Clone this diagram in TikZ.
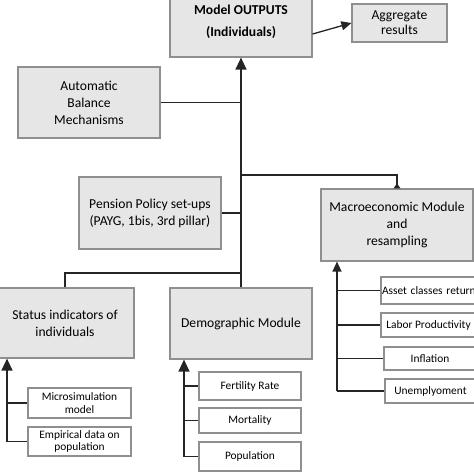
\documentclass[tikz,border=0pt]{standalone}
\usepackage{fontspec}
\setmainfont{Carlito}
\usetikzlibrary{arrows.meta}
\definecolor{boxgray}{HTML}{8F8F8F}
\definecolor{fillgray}{HTML}{E6E6E6}
\definecolor{linec}{HTML}{252525}
\tikzset{
  mainbox/.style={draw=boxgray, fill=fillgray, line width=1.2pt, inner sep=0pt, align=center,
    font=\fontsize{13.6}{17}\selectfont},
  subbox/.style={draw=boxgray, fill=white, line width=1.2pt, inner sep=0pt, align=center,
    font=\fontsize{11.4}{12.5}\selectfont},
  conn/.style={draw=linec, line width=1.3pt},
  bigarrow/.style={-{Triangle[length=12pt,width=11pt]}},
  midarrow/.style={-{Triangle[length=10pt,width=9pt]}},
}
\begin{document}
\begin{tikzpicture}[x=1pt,y=-1pt]
\useasboundingbox (0,0) rectangle (474,474);
% main boxes
\node[mainbox, minimum width=142pt, minimum height=70pt] (out) at (241,22) {\textbf{Model OUTPUTS}\\[5pt]\textbf{(Individuals)}};
\node[mainbox, minimum width=95pt, minimum height=38pt, font=\fontsize{13.6}{15}\selectfont] (agg) at (399.5,23) {Aggregate\\results};
\node[mainbox, minimum width=142pt, minimum height=71pt] (auto) at (89,102.5) {Automatic\\Balance\\Mechanisms};
\node[mainbox, minimum width=142pt, minimum height=72pt] (pen) at (150,213) {Pension Policy set-ups\\(PAYG, 1bis, 3rd pillar)};
\node[mainbox, minimum width=152pt, minimum height=72pt] (macro) at (397,225) {Macroeconomic Module\\and\\resampling};
\node[mainbox, minimum width=138pt, minimum height=70pt] (stat) at (65,323) {Status indicators of\\individuals};
\node[mainbox, minimum width=142pt, minimum height=71pt] (demo) at (241,323.5) {Demographic Module};
% sub boxes
\node[subbox, minimum width=103pt, minimum height=30pt] (micro) at (79.5,403) {Microsimulation\\model};
\node[subbox, minimum width=103pt, minimum height=29pt] (emp) at (79.5,441.5) {Empirical data on\\population};
\node[subbox, minimum width=102pt, minimum height=28pt] (fert) at (250,386) {Fertility Rate};
\node[subbox, minimum width=102pt, minimum height=25pt] (mort) at (250,420.5) {Mortality};
\node[subbox, minimum width=102pt, minimum height=29pt] (pop) at (250,456.5) {Population};
\node[subbox, text width=110pt, inner xsep=1pt, align=left, minimum height=27pt] (asset) at (437,290.5) {Asset classes return};
\node[subbox, minimum width=95pt, minimum height=24pt] (labor) at (428.5,325) {Labor Productivity};
\node[subbox, minimum width=92pt, minimum height=23pt] (infl) at (430,358.5) {Inflation};
\node[subbox, minimum width=91pt, minimum height=24pt] (unemp) at (430.5,391) {Unemplyoment};
% junctions
\coordinate (jlow) at (241,273);
\coordinate (jmac) at (241,175);
\coordinate (sb) at (7,441.5);
\coordinate (db) at (184,456.5);
\coordinate (mb) at (337,391);
% main trunk
\draw[conn, bigarrow] (jlow) -- (out.south);
\draw[conn] (auto.east) -- (auto.east -| jlow);
\draw[conn] (pen.east) -- (pen.east -| jlow);
\draw[conn] (jmac) -| (macro.north);
\fill[linec] (macro.north) ++(-3.5,0) -- ++(7,0) -- ++(-3.5,-5) -- cycle;
\draw[conn] (jlow) -| (stat.north);
\draw[conn] (jlow) -- (demo.north);
\draw[conn, midarrow] ([yshift=-12pt]out.east) -- (agg.west);
% status
\draw[conn, bigarrow] (sb) -- (stat.south -| sb);
\draw[conn] (micro.west -| sb) -- (micro.west);
\draw[conn] (sb) -- (emp.west);
% demographic
\draw[conn, bigarrow] (db) -- (demo.south -| db);
\draw[conn] (fert.west -| db) -- (fert.west);
\draw[conn] (mort.west -| db) -- (mort.west);
\draw[conn] (db) -- (pop.west);
% macro
\draw[conn, midarrow] (mb) -- (macro.south -| mb);
\draw[conn] (asset.west -| mb) -- (asset.west);
\draw[conn] (labor.west -| mb) -- (labor.west);
\draw[conn] (infl.west -| mb) -- (infl.west);
\draw[conn] (mb) -- (unemp.west);
\end{tikzpicture}
\end{document}
